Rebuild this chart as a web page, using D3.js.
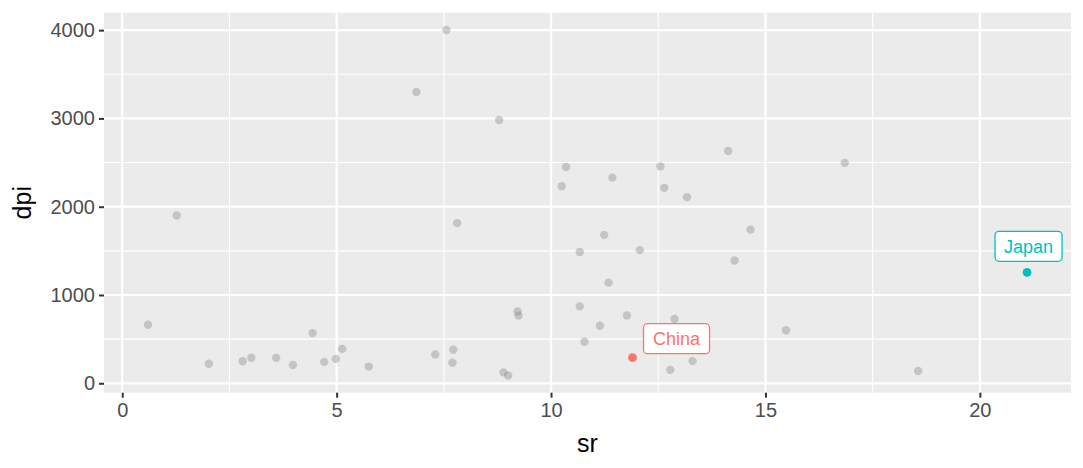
<!DOCTYPE html>
<html><head><meta charset="utf-8">
<script src="https://cdn.jsdelivr.net/npm/d3@7"></script>
<style>body{margin:0;background:#fff}svg{display:block;font-family:"Liberation Sans",Arial,sans-serif}</style>
</head><body><svg id="c" width="1083" height="468"></svg>
<script>
const countries = ["Australia","Austria","Belgium","Bolivia","Brazil","Canada","Chile","China","Colombia","Costa Rica","Denmark","Ecuador","Finland","France","Germany","Greece","Guatamala","Honduras","Iceland","India","Ireland","Italy","Japan","Korea","Luxembourg","Malta","Norway","Netherlands","New Zealand","Nicaragua","Panama","Paraguay","Peru","Philippines","Portugal","South Africa","South Rhodesia","Spain","Sweden","Switzerland","Turkey","Tunisia","United Kingdom","United States","Venezuela","Zambia","Jamaica","Uruguay","Libya","Malaysia"];
const sr = [11.43,12.07,13.17,5.75,12.88,8.79,0.60,11.90,4.98,10.78,16.85,3.59,11.24,12.64,12.55,10.67,3.01,7.70,1.27,9.00,11.34,14.28,21.10,3.98,10.35,15.48,10.25,14.65,10.67,7.30,4.44,2.02,12.70,12.78,12.49,11.14,13.30,11.77,6.86,14.13,5.13,2.81,7.81,7.56,9.22,18.56,7.72,9.24,8.89,4.71];
const dpi = [2329.68,1507.99,2108.47,189.13,728.47,2982.88,662.86,289.52,276.65,471.24,2496.53,287.77,1681.25,2213.82,2457.12,870.85,289.71,232.44,1900.10,88.94,1139.95,1390.00,1257.28,207.68,2449.39,601.05,2231.03,1740.70,1487.52,325.54,568.56,220.56,400.06,152.01,579.51,651.11,250.96,768.79,3299.49,2630.96,389.66,249.87,1813.93,4001.89,813.39,138.33,380.47,766.54,123.58,242.69];
const highlighted = ["China","Japan"];
const highlightColors = ["#F8766D","#00BFC4"];
const xBreaks = [0,5,10,15,20];
const xMinor = [2.5,7.5,12.5,17.5];
const yBreaks = [0,1000,2000,3000,4000];
const yMinor = [500,1500,2500,3500];

const svg = d3.select("#c");
const L = 104, R = 1071, T = 12.7, B = 392.7;
const xr = d3.extent(sr), yr = d3.extent(dpi);
const xe = (xr[1]-xr[0])*0.05, ye = (yr[1]-yr[0])*0.05;
const x = d3.scaleLinear().domain([xr[0]-xe, xr[1]+xe]).range([L, R]);
const y = d3.scaleLinear().domain([yr[0]-ye, yr[1]+ye]).range([B, T]);

svg.append("rect").attr("x",L).attr("y",T).attr("width",R-L).attr("height",B-T).attr("fill","#EBEBEB");
const g = svg.append("g");
g.selectAll(".xm").data(xMinor).join("line").attr("x1",d=>x(d)).attr("x2",d=>x(d)).attr("y1",T).attr("y2",B).attr("stroke","#fff").attr("stroke-width",1.1);
g.selectAll(".ym").data(yMinor).join("line").attr("class","ym").attr("y1",d=>y(d)).attr("y2",d=>y(d)).attr("x1",L).attr("x2",R).attr("stroke","#fff").attr("stroke-width",1.1);
g.selectAll(".xM").data(xBreaks).join("line").attr("class","xM").attr("x1",d=>x(d)).attr("x2",d=>x(d)).attr("y1",T).attr("y2",B).attr("stroke","#fff").attr("stroke-width",2.2);
g.selectAll(".yM").data(yBreaks).join("line").attr("class","yM").attr("y1",d=>y(d)).attr("y2",d=>y(d)).attr("x1",L).attr("x2",R).attr("stroke","#fff").attr("stroke-width",2.2);

const xAxis = d3.axisBottom(x).tickValues(xBreaks).tickSize(5).tickPadding(4).tickFormat(d3.format("d"));
const yAxis = d3.axisLeft(y).tickValues(yBreaks).tickSize(5).tickPadding(4).tickFormat(d3.format("d"));
const gx = svg.append("g").attr("transform",`translate(0,${B})`).call(xAxis);
const gy = svg.append("g").attr("transform",`translate(${L},0)`).call(yAxis);
[gx,gy].forEach(a=>{
  a.select(".domain").remove();
  a.selectAll(".tick line").attr("stroke","#333").attr("stroke-width",2);
  a.selectAll(".tick text").attr("fill","#4D4D4D").style("font-size","20px").style("font-family","'Liberation Sans',Arial,sans-serif");
});
gx.selectAll(".tick text").attr("dy","0.75em");

svg.append("text").attr("x",(L+R)/2).attr("y",452).attr("text-anchor","middle").style("font-size","25px").attr("fill","#000").text("sr");
svg.append("text").attr("transform",`translate(31,${(T+B)/2}) rotate(-90)`).attr("text-anchor","middle").style("font-size","25px").attr("fill","#000").text("dpi");

const data = countries.map((c,i)=>({c, sr:sr[i], dpi:dpi[i]}));
const others = data.filter(d=>!highlighted.includes(d.c));
const hi = data.filter(d=>highlighted.includes(d.c));

svg.append("g").selectAll("circle").data(others).join("circle")
  .attr("cx",d=>x(d.sr)).attr("cy",d=>y(d.dpi)).attr("r",4.2)
  .attr("fill","#8a8a8a").attr("fill-opacity",0.4);

svg.append("g").selectAll("circle").data(hi).join("circle")
  .attr("cx",d=>x(d.sr)).attr("cy",d=>y(d.dpi)).attr("r",4.4)
  .attr("fill",d=>highlightColors[highlighted.indexOf(d.c)]);

const offsets = {China:[44,-19], Japan:[1.5,-26]};
const lg = svg.append("g");
hi.forEach(d=>{
  const col = highlightColors[highlighted.indexOf(d.c)];
  const cx = x(d.sr)+offsets[d.c][0], cy = y(d.dpi)+offsets[d.c][1];
  const t = lg.append("text").attr("x",cx).attr("y",cy).attr("text-anchor","middle").attr("dy","0.35em")
    .style("font-size","18px").attr("fill",col).text(d.c);
  const bb = t.node().getBBox();
  const w = bb.width+18, h = 30;
  lg.insert("rect","text").attr("x",cx-w/2).attr("y",cy-h/2).attr("width",w).attr("height",h)
    .attr("rx",4).attr("fill","#fff").attr("stroke",col).attr("stroke-width",1.3);
});
</script></body></html>
